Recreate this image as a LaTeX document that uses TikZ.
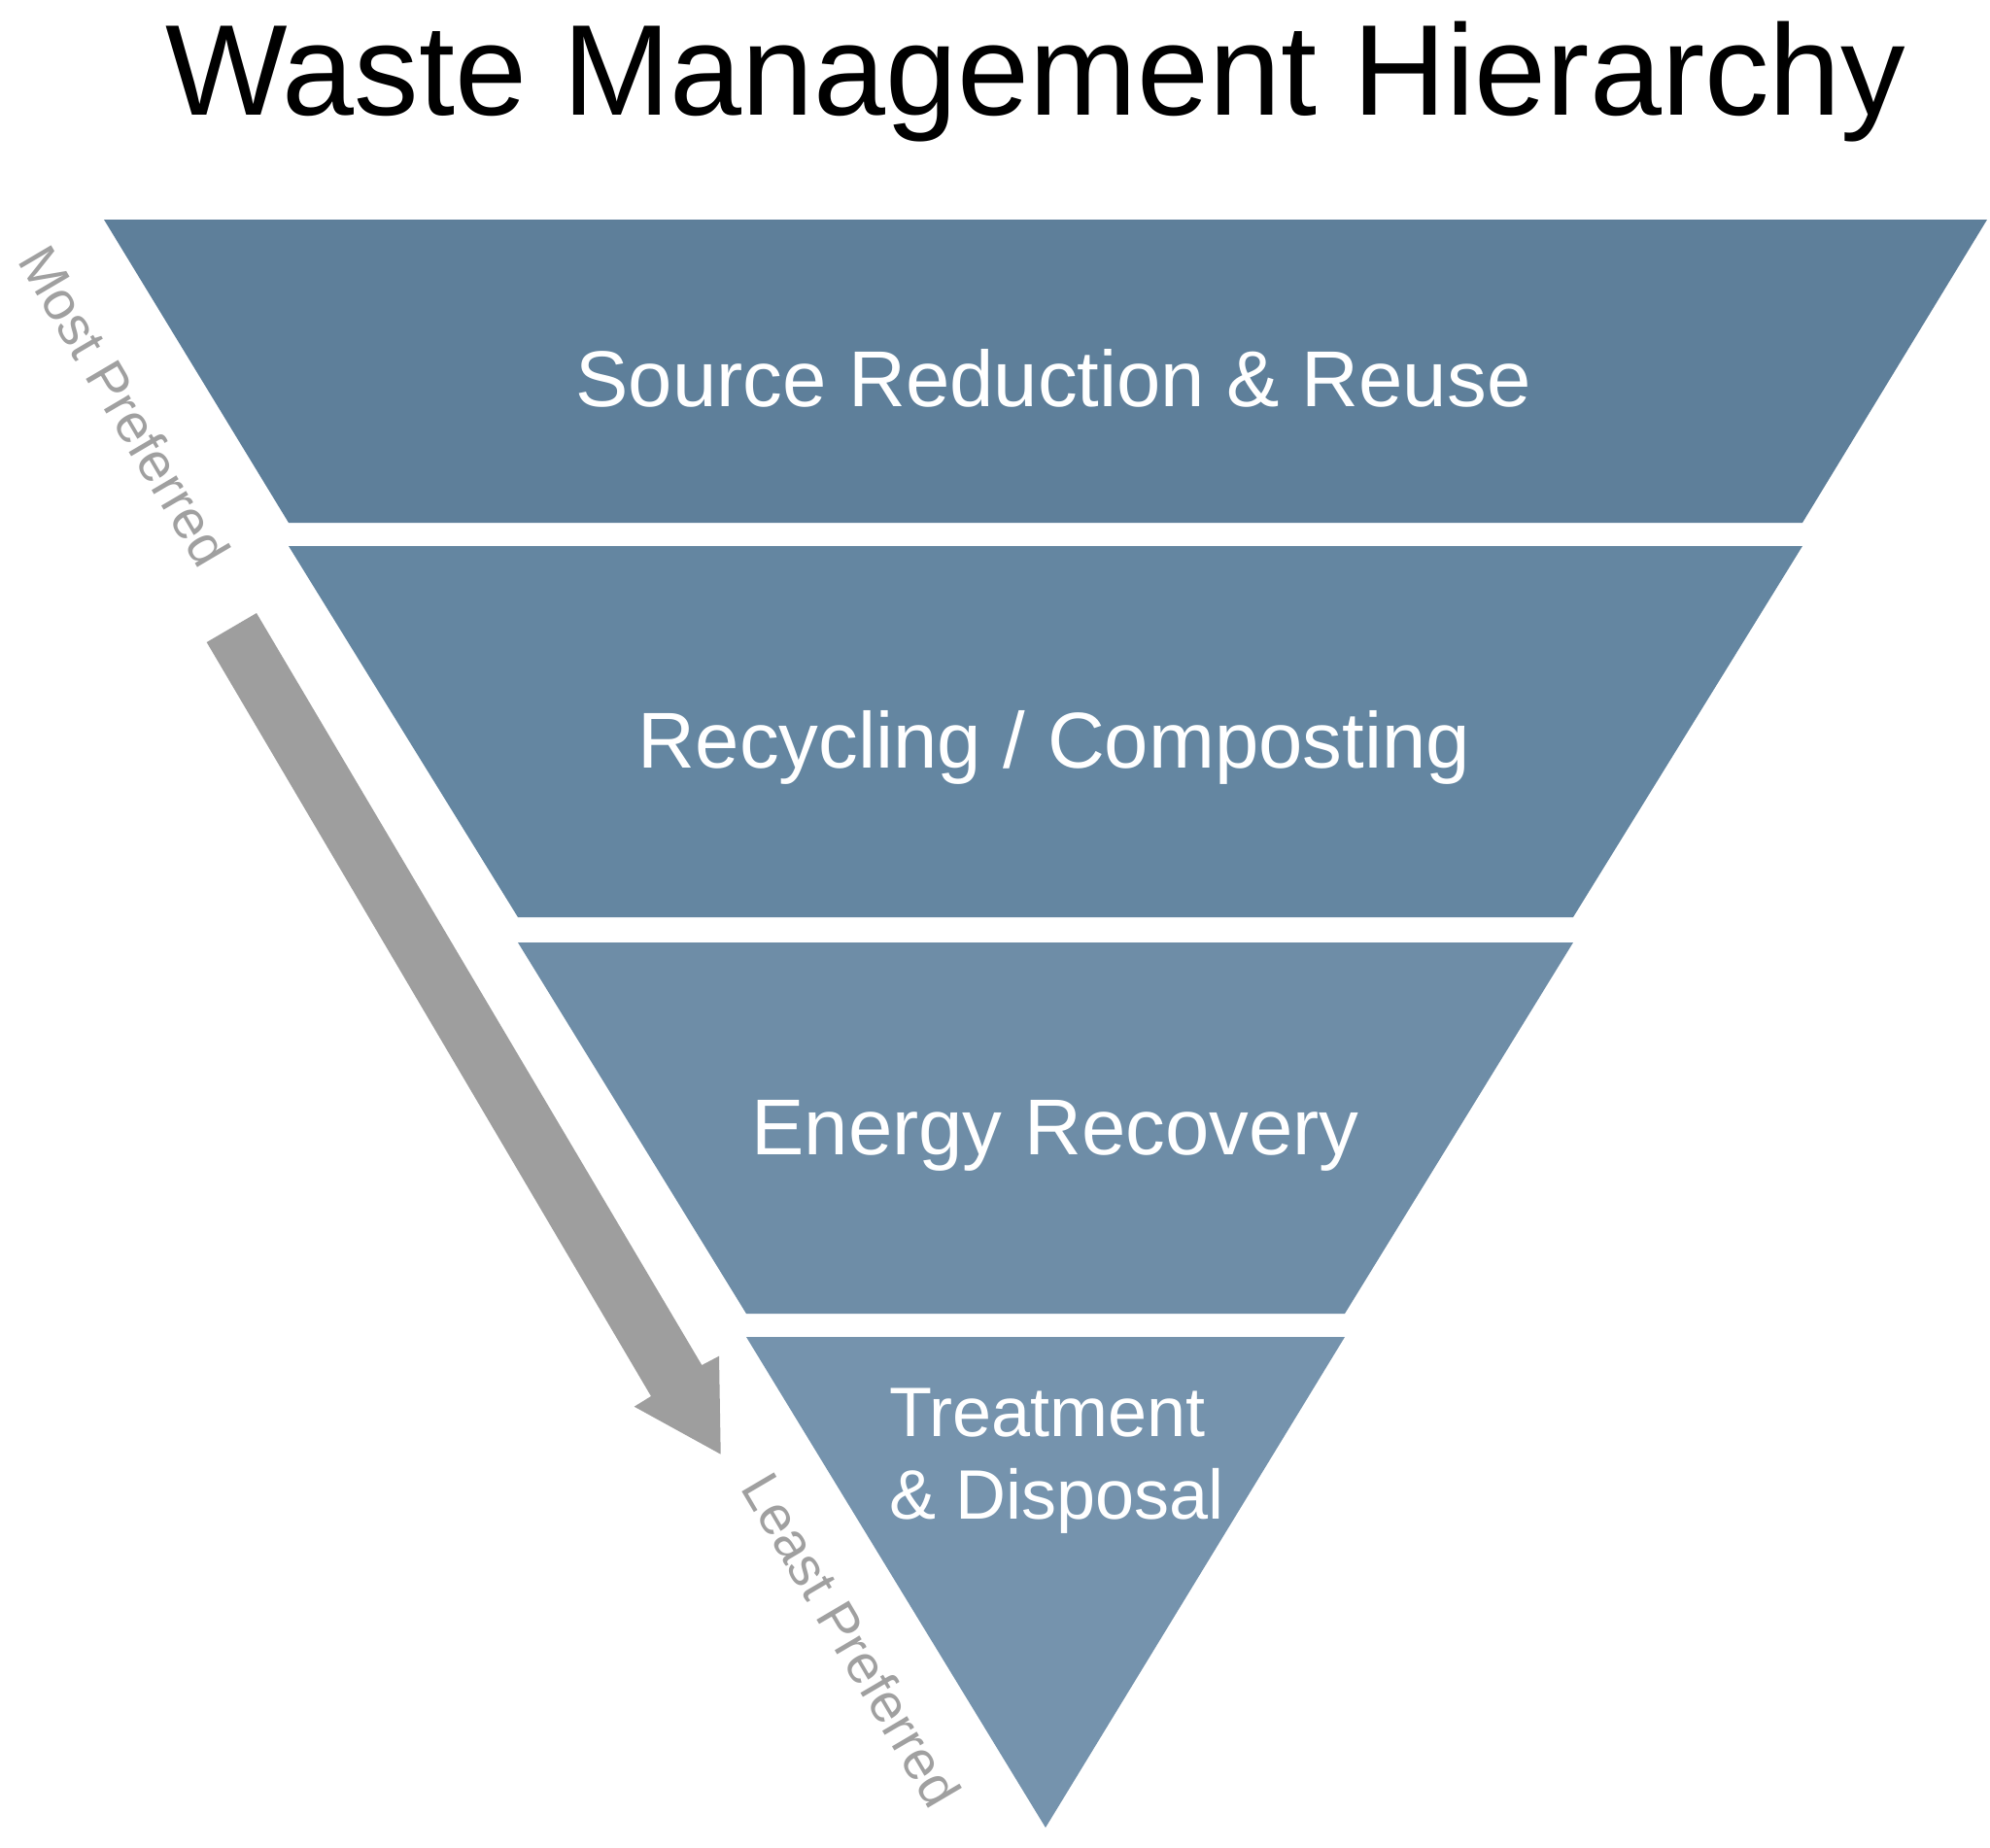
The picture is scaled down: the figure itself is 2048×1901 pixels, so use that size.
\documentclass[tikz,border=0pt]{standalone}
\usepackage{fontspec}
\setmainfont{Liberation Sans}
\definecolor{bandA}{HTML}{5E7F9A}
\definecolor{bandB}{HTML}{6486A1}
\definecolor{bandC}{HTML}{6E8DA7}
\definecolor{bandD}{HTML}{7593AD}
\definecolor{arrowgray}{HTML}{9E9E9E}
\definecolor{labelgray}{HTML}{A0A0A0}
\begin{document}
\begin{tikzpicture}[x=1pt,y=-1pt,
  bandlabel/.style={text=white,inner sep=0pt,font=\fontsize{81.5}{90}\selectfont},
  sidelabel/.style={text=labelgray,inner sep=0pt,rotate=-59.5,font=\fontsize{56}{60}\selectfont}]
\useasboundingbox (0,0) rectangle (2048,1901);
\fill[white] (0,0) rectangle (2048,1901);
% bands
\fill[bandA] (107,226) -- (2045,226) -- (1855,538) -- (297,538) -- cycle;
\fill[bandB] (297,562) -- (1855,562) -- (1619,944) -- (533,944) -- cycle;
\fill[bandC] (533,970) -- (1619,970) -- (1384,1352) -- (768,1352) -- cycle;
\fill[bandD] (768,1376) -- (1384,1376) -- (1076,1881) -- cycle;
% arrow
\fill[arrowgray] (212.7,661) -- (264,631) -- (722.3,1405) -- (740,1395.7) -- (741.7,1496.7) -- (652.7,1447.7) -- (670,1437) -- cycle;
% title
\node[anchor=base,inner sep=0pt,font=\fontsize{133}{140}\selectfont] (title) at (1066,118) {Waste Management Hierarchy};
% band labels
\node[bandlabel,anchor=base] (src) at (1084,418) {Source Reduction \& Reuse};
\node[bandlabel,anchor=base] (rec) at (1085,790) {Recycling / Composting};
\node[bandlabel,anchor=base] (eng) at (1086,1188) {Energy Recovery};
\node[text=white,inner sep=0pt,anchor=base west,align=left,font=\fontsize{72}{85}\selectfont] (treat) at (915,1563) {Treatment\\\& Disposal};
% side labels
\node[sidelabel] (most) at (128.5,417.5) {Most Preferred};
\node[sidelabel] (least) at (876.7,1688) {Least Preferred};
\end{tikzpicture}
\end{document}
